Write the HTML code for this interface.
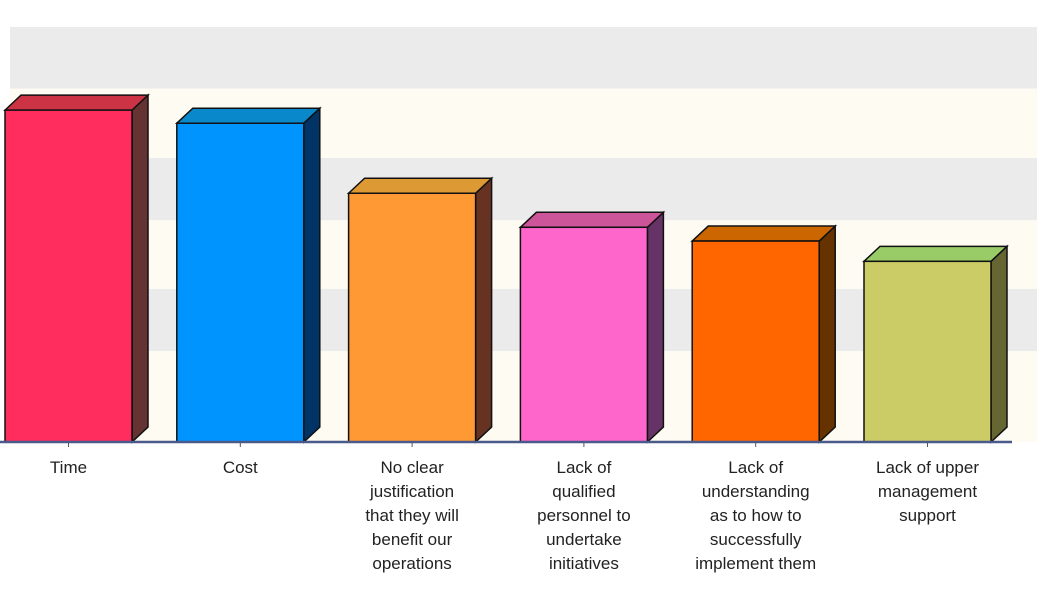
<!DOCTYPE html>
<html><head><meta charset="utf-8"><style>
body{margin:0;background:#fff;width:1050px;height:590px;overflow:hidden}
svg text{font-family:"Liberation Sans",sans-serif;font-size:17px;fill:#222}
</style></head><body>
<svg id="c" width="1050" height="590" xmlns="http://www.w3.org/2000/svg"></svg>
<script>
const categories=[["Time"],["Cost"],["No clear","justification","that they will","benefit our","operations"],["Lack of","qualified","personnel to","undertake","initiatives"],["Lack of","understanding","as to how to","successfully","implement them"],["Lack of upper","management","support"]];
const values=[50.7,48.7,38.0,32.8,30.7,27.6];
const bandEdges=[0,13.9,23.4,33.9,43.4,54.0,63.4];
const fronts=["#ff2d5e","#0094ff","#ff9933","#ff66cc","#ff6600","#cccc66"];
const tops=["#cc3344","#0a88cc","#dd9933","#cc5599","#cc6600","#99cc66"];
const sides=["#663333","#003366","#663322","#663366","#663300","#666633"];
const svg=document.getElementById('c');
const NS="http://www.w3.org/2000/svg";
const y0=442,ymax=63.4,yTop=27;
const y=v=>y0-(v/ymax)*(y0-yTop);
const x=i=>5+i*171.8;
const bw=127,dx=16,dy=15;
function mk(t,a){const e=document.createElementNS(NS,t);for(const k in a)e.setAttribute(k,a[k]);svg.appendChild(e);return e;}
for(let i=0;i<bandEdges.length-1;i++){
  const r=mk('rect',{x:10,y:y(bandEdges[i+1]),width:1027,height:y(bandEdges[i])-y(bandEdges[i+1]),fill:i%2===0?'#fdfbf2':'#ebebeb'});
  
  
}
values.forEach((v,i)=>{
  const X=x(i),T=y(v);
  const g=document.createElementNS(NS,'g');svg.appendChild(g);
  
  
  const side=document.createElementNS(NS,'polygon');
  side.setAttribute('points',`${X+bw},${T} ${X+bw+dx},${T-dy} ${X+bw+dx},${y0-dy} ${X+bw},${y0}`);
  side.setAttribute('fill',sides[i]);side.setAttribute('stroke','#111');side.setAttribute('stroke-width','1.5');g.appendChild(side);
  const top=document.createElementNS(NS,'polygon');
  top.setAttribute('points',`${X},${T} ${X+dx},${T-dy} ${X+bw+dx},${T-dy} ${X+bw},${T}`);
  top.setAttribute('fill',tops[i]);top.setAttribute('stroke','#111');top.setAttribute('stroke-width','1.5');g.appendChild(top);
  const f=document.createElementNS(NS,'rect');
  f.setAttribute('x',X);f.setAttribute('y',T);f.setAttribute('width',bw);f.setAttribute('height',y0-T);
  f.setAttribute('fill',fronts[i]);f.setAttribute('stroke','#111');f.setAttribute('stroke-width','1.5');g.appendChild(f);
  const t=mk('text',{x:X+bw/2,y:473,'text-anchor':'middle'});
  
  
  categories[i].forEach((ln,j)=>{const s=document.createElementNS(NS,'tspan');s.setAttribute('x',X+bw/2);s.setAttribute('dy',j?24:0);s.textContent=ln;t.appendChild(s);});
  const tk=mk('line',{x1:X+bw/2,x2:X+bw/2,y1:y0,y2:y0+5,stroke:'#555'});
  
  
});
const ax=mk('line',{x1:0,x2:1012,y1:y0,y2:y0,stroke:'#4a5a8a','stroke-width':2.5});


</script>
</body></html>
